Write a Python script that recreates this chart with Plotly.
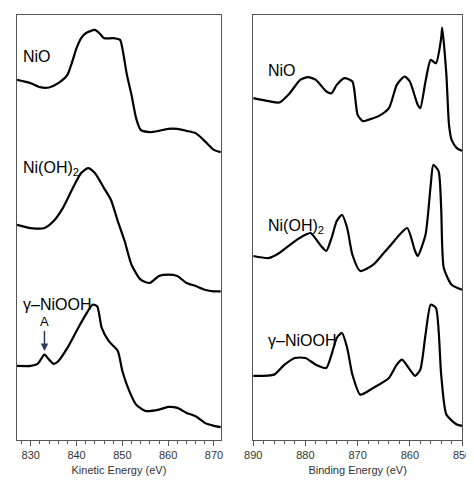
import plotly.graph_objects as go
from plotly.subplots import make_subplots

# signal given as depth below the top of the frame (arbitrary units, larger = lower)
ke_nio = [827, 830, 832, 834, 836, 838, 840, 841, 842, 844, 845, 846, 848, 849.5, 850, 851, 852, 853, 854, 856, 858, 860, 862, 864, 866, 868, 870, 871.5]
nio_left = [71.7, 75, 79, 79.3, 75, 66.7, 40, 30, 25, 21.7, 25, 30, 30, 31.7, 40, 66.7, 86.7, 110, 121.7, 124, 122.7, 120.7, 120.7, 122.7, 125, 133, 141.7, 144]

ke_oh = [827, 830, 833, 835, 837, 839, 841, 842.5, 844, 846, 847.5, 849, 850.5, 852, 854, 856, 858, 860, 862, 864, 866, 868, 870, 871.5]
oh_left = [216.7, 220, 220, 213, 200, 181.7, 165, 160, 165, 180, 191.7, 213, 233, 256.7, 271.7, 275, 268, 266.7, 268, 275, 278, 281.7, 283.3, 283.3]

ke_ooh = [827, 830, 831.5, 833, 834, 835, 836, 838, 840, 842, 843.5, 844.5, 845.5, 847, 849, 850, 851.5, 853, 855, 858, 860, 862, 864, 866, 868, 870, 871.5]
ooh_left = [358, 358, 356, 346.7, 351.7, 356, 353.3, 340, 323, 306.7, 296.7, 298.3, 320, 333, 343, 363, 383, 396.7, 403, 401.7, 399, 400, 405, 408.3, 415, 418, 419.3]

be_nio = [890, 887, 885, 883, 881, 879.5, 878, 876, 875, 874, 872.5, 871, 870, 869, 868, 866, 864, 862.5, 861, 860, 858.5, 858, 857, 856, 855, 854, 853.8, 853, 852.5, 852, 851, 850]
nio_right = [90, 93, 94.3, 85, 71.7, 69, 71.7, 83.3, 85, 76.7, 70, 73.3, 106.7, 113, 111.7, 108, 100, 76.7, 68.3, 73.3, 96.7, 100, 73.3, 51.7, 55, 30, 19.3, 66.7, 116.7, 131.7, 140, 142.7]

be_oh = [890, 887, 885, 882, 880, 879, 877, 876, 875, 874, 873, 872, 871, 869.5, 867, 865, 863, 862, 860.5, 859, 858.5, 857, 856, 855.5, 854.5, 854, 853.5, 852, 850]
oh_right = [248, 250, 245, 233, 226.7, 225, 238, 243, 230, 213, 206.7, 220, 246.7, 263, 256.7, 245, 233, 226.7, 220, 243, 248, 226.7, 176.7, 156.7, 163, 200, 260, 276.7, 281.7]

be_ooh = [890, 886, 884, 882, 880, 878, 876, 875, 874, 873, 872, 871, 869.5, 867, 864, 862.5, 861.5, 860, 859, 858, 857, 856, 855, 854, 853, 851, 850]
ooh_right = [368, 366.7, 356.7, 350, 350, 356.7, 360, 346.7, 330, 325, 340, 366.7, 386.7, 380, 370, 356.7, 351.7, 361.7, 368, 361.7, 326.7, 296.7, 300, 366.7, 406.7, 416.7, 418]

fig = make_subplots(rows=1, cols=2)
line = dict(color="black", width=2.2, shape="spline", smoothing=0.6)
for x, y in [(ke_nio, nio_left), (ke_oh, oh_left), (ke_ooh, ooh_left)]:
    fig.add_trace(go.Scatter(x=x, y=y, mode="lines", line=line, showlegend=False), row=1, col=1)
for x, y in [(be_nio, nio_right), (be_oh, oh_right), (be_ooh, ooh_right)]:
    fig.add_trace(go.Scatter(x=x, y=y, mode="lines", line=line, showlegend=False), row=1, col=2)

axis = dict(showline=True, linecolor="#555", linewidth=1, mirror=True, showgrid=False, zeroline=False,
            ticks="outside", ticklen=5, tickcolor="#555", tickfont=dict(family="Arial", size=11, color="#333"),
            minor=dict(ticks="outside", ticklen=3, dtick=2, tickcolor="#555"), dtick=10)
fig.update_xaxes(axis)
fig.update_xaxes(range=[827, 871.5], domain=[0.0, 0.447], tick0=830,
                 title=dict(text="Kinetic Energy (eV)", font=dict(family="Arial", size=11, color="#333"), standoff=6),
                 row=1, col=1)
fig.update_xaxes(range=[890, 850], domain=[0.518, 0.976], tick0=850,
                 title=dict(text="Binding Energy (eV)", font=dict(family="Arial", size=11, color="#333"), standoff=6),
                 row=1, col=2)
fig.update_yaxes(range=[432, 7], domain=[0.104, 0.985], showline=True, linecolor="#555", mirror=True,
                 showticklabels=False, showgrid=False, zeroline=False, ticks="")

font = dict(family="Arial", size=16, color="black")
labels = [("x", "y", 827.8, 48, "NiO"), ("x", "y", 827.8, 160, "Ni(OH)<sub>2</sub>"), ("x", "y", 827.8, 297, "γ–NiOOH"),
          ("x2", "y2", 887.5, 62, "NiO"), ("x2", "y2", 887.5, 218, "Ni(OH)<sub>2</sub>"), ("x2", "y2", 887.5, 333, "γ–NiOOH")]
for xr, yr, x, y, t in labels:
    fig.add_annotation(xref=xr, yref=yr, x=x, y=y, text=t, showarrow=False, xanchor="left", font=font)
fig.add_annotation(xref="x", yref="y", x=833, y=343, ax=833, ay=323, axref="x", ayref="y", text="A",
                   showarrow=True, arrowhead=2, arrowsize=1, arrowwidth=1.5, yanchor="bottom",
                   font=dict(family="Arial", size=13, color="black"))

fig.update_layout(width=474, height=482, margin=dict(l=0, r=0, t=0, b=0),
                  plot_bgcolor="white", paper_bgcolor="white")
fig.write_html("out.html")
